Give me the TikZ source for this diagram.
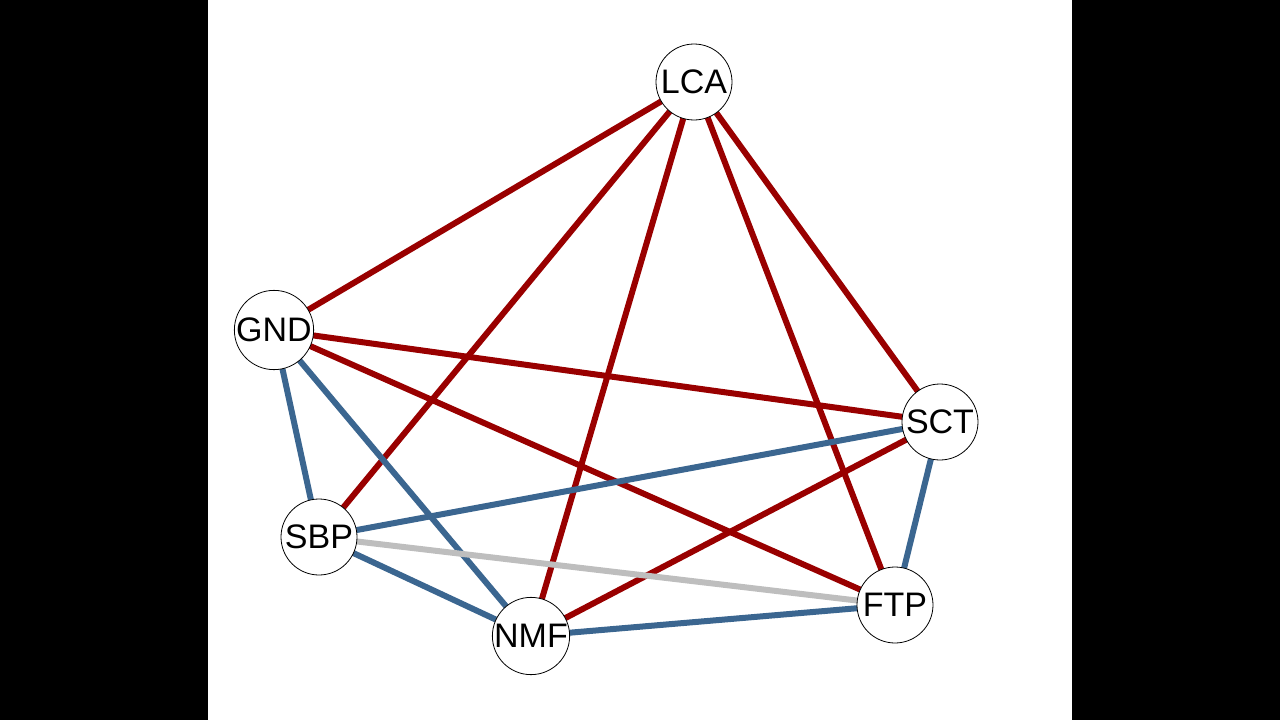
\documentclass[tikz,border=0pt]{standalone}
\usepackage{fontspec}
\setmainfont{Liberation Sans}
\usetikzlibrary{backgrounds}
\definecolor{edgered}{HTML}{990000}
\definecolor{edgeblue}{HTML}{3B6690}
\definecolor{edgegray}{HTML}{BEBEBE}
\begin{document}
\begin{tikzpicture}[x=1pt,y=-1pt,
  vertex/.style={circle,draw=black,line width=0.8pt,fill=white,minimum size=76pt,inner sep=0pt,font=\fontsize{34}{36}\selectfont},
  posedge/.style={draw=edgered,line width=6pt},
  negedge/.style={draw=edgeblue,line width=6pt},
  weakedge/.style={draw=edgegray,line width=6pt}]
\useasboundingbox (0,0) rectangle (1280,720);
% nodes
\node[vertex] (LCA) at (694,82) {LCA};
\node[vertex] (GND) at (274,330) {GND};
\node[vertex] (SCT) at (940,422) {SCT};
\node[vertex] (SBP) at (319,537) {SBP};
\node[vertex] (FTP) at (895,605) {FTP};
\node[vertex] (NMF) at (531,636) {NMF};
\begin{pgfonlayer}{background}
\fill[black] (0,0) rectangle (208,720);
\fill[black] (1072,0) rectangle (1280,720);
\draw[posedge] (LCA.center) -- (GND.center);
\draw[posedge] (LCA.center) -- (SBP.center);
\draw[posedge] (LCA.center) -- (NMF.center);
\draw[posedge] (LCA.center) -- (FTP.center);
\draw[posedge] (LCA.center) -- (SCT.center);
\draw[posedge] (GND.center) -- (SCT.center);
\draw[posedge] (GND.center) -- (FTP.center);
\draw[posedge] (SCT.center) -- (NMF.center);
\draw[negedge] (GND.center) -- (SBP.center);
\draw[negedge] (GND.center) -- (NMF.center);
\draw[negedge] (SBP.center) -- (SCT.center);
\draw[negedge] (SBP.center) -- (NMF.center);
\draw[negedge] (NMF.center) -- (FTP.center);
\draw[negedge] (SCT.center) -- (FTP.center);
\draw[weakedge] (SBP.center) -- (FTP.center);
\end{pgfonlayer}
\end{tikzpicture}
\end{document}
